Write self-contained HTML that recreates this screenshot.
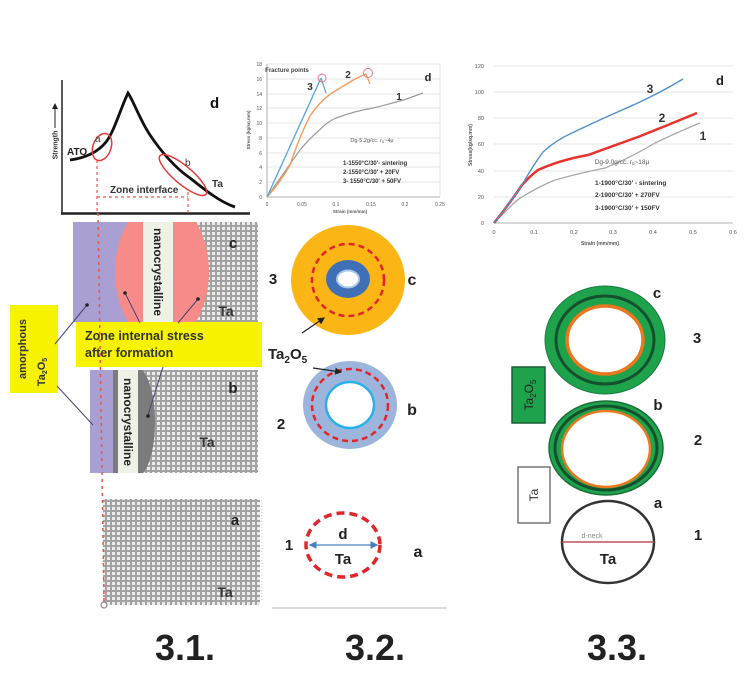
<!DOCTYPE html>
<html><head><meta charset="utf-8"><style>
html,body{margin:0;padding:0;background:#fff;}
svg{display:block;}
text{font-family:"Liberation Sans",sans-serif;}
</style></head><body>
<svg width="750" height="677" viewBox="0 0 750 677" xmlns="http://www.w3.org/2000/svg">
<defs>
<pattern id="grid" width="5" height="5" patternUnits="userSpaceOnUse">
<rect width="5" height="5" fill="#ececec"/>
<rect width="5" height="2" fill="#a2a2a2"/>
<rect width="2" height="5" fill="#a2a2a2"/>
</pattern>
<clipPath id="cc"><rect x="73" y="222" width="185" height="100"/></clipPath>
<clipPath id="cb"><rect x="90" y="370" width="168" height="103"/></clipPath>
<marker id="ah" markerWidth="6" markerHeight="6" refX="5" refY="3" orient="auto"><path d="M0,0 L6,3 L0,6 z" fill="#222"/></marker>
<marker id="bh" markerWidth="6" markerHeight="6" refX="5" refY="3" orient="auto-start-reverse"><path d="M0,0 L6,3 L0,6 z" fill="#4a7fc0"/></marker>
</defs>

<!-- ===== Top-left chart ===== -->
<line x1="62" y1="80" x2="62" y2="214" stroke="#222" stroke-width="1.5"/>
<line x1="61" y1="213.5" x2="250" y2="213.5" stroke="#222" stroke-width="2.5"/>
<line x1="55" y1="128" x2="55" y2="104" stroke="#222" stroke-width="1" marker-end="url(#ah)"/>
<text x="0" y="0" font-size="7" font-weight="bold" fill="#333" text-anchor="middle" transform="translate(57.5,145) rotate(-90)">Strength</text>
<path d="M70,160 C85,158 98,152 106,142 C114,132 120,110 128,93 C133,100 140,120 150,135 C160,150 175,168 190,178 C205,190 220,202 235,207" fill="none" stroke="#111" stroke-width="2.8"/>
<ellipse cx="102" cy="147" rx="9" ry="14" fill="none" stroke="#e23a3a" stroke-width="1.5" transform="rotate(20 102 147)"/>
<ellipse cx="183" cy="175" rx="30" ry="9" fill="none" stroke="#e23a3a" stroke-width="1.5" transform="rotate(40 183 175)"/>
<line x1="97" y1="160" x2="97" y2="213" stroke="#e8574a" stroke-width="1.2" stroke-dasharray="3,3"/>
<line x1="188" y1="192" x2="188" y2="213" stroke="#e8574a" stroke-width="1.2" stroke-dasharray="3,3"/>
<line x1="97" y1="197" x2="188" y2="197" stroke="#e8574a" stroke-width="1.2" stroke-dasharray="3,3"/>
<text x="67" y="155" font-size="10" font-weight="bold" fill="#222">ATO</text>
<text x="95" y="142" font-size="10" fill="#444">a</text>
<text x="185" y="166" font-size="10" fill="#444">b</text>
<text x="212" y="187" font-size="10" font-weight="bold" fill="#333">Ta</text>
<text x="110" y="193" font-size="10" font-weight="bold" fill="#333">Zone interface</text>
<text x="210" y="108" font-size="15" font-weight="bold" fill="#111">d</text>

<!-- ===== Block c ===== -->
<g clip-path="url(#cc)">
<rect x="73" y="222" width="185" height="100" fill="url(#grid)"/>
<rect x="73" y="222" width="100" height="100" fill="#a99fd2"/>
<ellipse cx="162" cy="272" rx="47" ry="72" fill="#f68b8a"/>
<rect x="143" y="222" width="30" height="100" fill="#eef2e6"/>
</g>
<text x="0" y="0" font-size="12" font-weight="bold" fill="#222" text-anchor="middle" transform="translate(154,272) rotate(90)">nanocrystalline</text>
<text x="233" y="248" font-size="15" font-weight="bold" fill="#222" text-anchor="middle">c</text>
<text x="226" y="316" font-size="14" font-weight="bold" fill="#333" text-anchor="middle">Ta</text>

<!-- ===== Block b ===== -->
<g clip-path="url(#cb)">
<rect x="90" y="370" width="168" height="103" fill="url(#grid)"/>
<rect x="90" y="370" width="24" height="103" fill="#a99fd2"/>
<ellipse cx="135" cy="422" rx="20" ry="56" fill="#7b7b7b"/>
<rect x="113" y="370" width="8" height="103" fill="#7b7b7b"/>
<rect x="118" y="370" width="20" height="103" fill="#eef2e6"/>
</g>
<text x="0" y="0" font-size="12" font-weight="bold" fill="#222" text-anchor="middle" transform="translate(124,422) rotate(90)">nanocrystalline</text>
<text x="233" y="393" font-size="15" font-weight="bold" fill="#222" text-anchor="middle">b</text>
<text x="207" y="447" font-size="14" font-weight="bold" fill="#333" text-anchor="middle">Ta</text>

<!-- ===== Block a ===== -->
<rect x="103" y="499" width="157" height="106" fill="url(#grid)"/>
<text x="235" y="525" font-size="15" font-weight="bold" fill="#222" text-anchor="middle">a</text>
<text x="225" y="597" font-size="14" font-weight="bold" fill="#333" text-anchor="middle">Ta</text>

<!-- yellow labels -->
<rect x="76" y="322" width="186" height="45" fill="#f6f200"/>
<text x="85" y="340" font-size="12.5" font-weight="bold" fill="#333">Zone internal stress</text>
<text x="85" y="357" font-size="12.5" font-weight="bold" fill="#333">after formation</text>
<rect x="10" y="305" width="48" height="88" fill="#f6f200"/>
<text x="0" y="0" font-size="11" font-weight="bold" fill="#333" text-anchor="middle" transform="translate(26,349) rotate(-90)" font-family="Liberation Serif,serif">amorphous</text>
<text x="0" y="0" font-size="11" font-weight="bold" fill="#333" text-anchor="middle" transform="translate(45,372) rotate(-90)">Ta<tspan font-size="7" dy="2">2</tspan><tspan dy="-2">O</tspan><tspan font-size="7" dy="2">5</tspan></text>

<!-- pointer lines -->
<g stroke="#4a4470" stroke-width="1" fill="none">
<line x1="55" y1="344" x2="87" y2="305"/>
<line x1="57" y1="386" x2="93" y2="425"/>
<line x1="125" y1="293" x2="140" y2="323"/>
<line x1="198" y1="299" x2="178" y2="323"/>
<line x1="163" y1="367" x2="148" y2="415"/>
</g>
<circle cx="87" cy="305" r="1.8" fill="#222"/>
<circle cx="125" cy="293" r="1.8" fill="#222"/>
<circle cx="198" cy="299" r="1.8" fill="#222"/>
<circle cx="148" cy="416" r="1.8" fill="#222"/>

<!-- red dashed vertical -->
<line x1="98" y1="213" x2="104" y2="602" stroke="#e8574a" stroke-width="1.5" stroke-dasharray="3,4"/>
<circle cx="104" cy="605" r="3" fill="#fff" stroke="#888" stroke-width="1.2"/>

<!-- ===== Middle chart ===== -->
<g stroke="#dcdcdc" stroke-width="0.7">
<line x1="267" y1="64" x2="440" y2="64"/><line x1="267" y1="79" x2="440" y2="79"/>
<line x1="267" y1="94" x2="440" y2="94"/><line x1="267" y1="108" x2="440" y2="108"/>
<line x1="267" y1="123" x2="440" y2="123"/><line x1="267" y1="138" x2="440" y2="138"/>
<line x1="267" y1="153" x2="440" y2="153"/><line x1="267" y1="167" x2="440" y2="167"/>
<line x1="267" y1="182" x2="440" y2="182"/>
<line x1="440" y1="64" x2="440" y2="197"/>
</g>
<line x1="267" y1="64" x2="267" y2="197" stroke="#999" stroke-width="0.8"/>
<line x1="267" y1="197" x2="440" y2="197" stroke="#999" stroke-width="0.8"/>
<g font-size="5" fill="#555" text-anchor="end">
<text x="262" y="66">18</text><text x="262" y="81">16</text><text x="262" y="96">14</text>
<text x="262" y="110">12</text><text x="262" y="125">10</text><text x="262" y="140">8</text>
<text x="262" y="155">6</text><text x="262" y="169">4</text><text x="262" y="184">2</text>
<text x="262" y="199">0</text>
</g>
<g font-size="5" fill="#555" text-anchor="middle">
<text x="267" y="206">0</text><text x="302" y="206">0.05</text><text x="336" y="206">0.1</text>
<text x="371" y="206">0.15</text><text x="405" y="206">0.2</text><text x="440" y="206">0.25</text>
</g>
<text x="350" y="213" font-size="4.5" font-weight="bold" fill="#555" text-anchor="middle">Strain (mm/mm)</text>
<text x="0" y="0" font-size="4.5" font-weight="bold" fill="#555" text-anchor="middle" transform="translate(250,130) rotate(-90)">Stress (kg/sq.mm)</text>
<path d="M267,197 L300,150 Q310,138 319,130.5 Q327,122 336,118 Q355,111 373,108 Q390,104 405,99.5 L423,93" fill="none" stroke="#9a9a9a" stroke-width="1.2"/>
<path d="M267,197 Q280,183 290,165 Q300,135 310,116 Q322,98 337,90 Q345,85 350,82 Q358,77 366,74" fill="none" stroke="#f59a5a" stroke-width="1.4"/>
<path d="M366,74 L370,84" fill="none" stroke="#f59a5a" stroke-width="1.2"/>
<path d="M267,197 L321,78" fill="none" stroke="#5aa9e0" stroke-width="1.4"/>
<path d="M321,78 L326,93" fill="none" stroke="#5ab0b0" stroke-width="1.2"/>
<circle cx="322" cy="78" r="4" fill="none" stroke="#e8708a" stroke-width="1"/>
<circle cx="368" cy="73" r="4.5" fill="none" stroke="#e8708a" stroke-width="1"/>
<text x="287" y="72" font-size="6" font-weight="bold" fill="#444" text-anchor="middle">Fracture points</text>
<text x="310" y="90" font-size="10" font-weight="bold" fill="#333" text-anchor="middle">3</text>
<text x="348" y="78" font-size="10" font-weight="bold" fill="#333" text-anchor="middle">2</text>
<text x="399" y="100" font-size="10" font-weight="bold" fill="#333" text-anchor="middle">1</text>
<text x="428" y="81" font-size="11" font-weight="bold" fill="#222" text-anchor="middle">d</text>
<text x="372" y="142" font-size="5.5" fill="#555" text-anchor="middle">Dg-5.2g/cc. r<tspan font-size="4" dy="1">0</tspan><tspan dy="-1">~4μ</tspan></text>
<g font-size="6" font-weight="bold" fill="#333">
<text x="343" y="165">1-1550°C/30'- sintering</text>
<text x="343" y="174">2-1550°C/30' + 20FV</text>
<text x="343" y="183">3- 1550°C/30' + 50FV</text>
</g>

<!-- ===== Right chart ===== -->
<g stroke="#dcdcdc" stroke-width="0.7">
<line x1="494" y1="66" x2="733" y2="66"/><line x1="494" y1="92" x2="733" y2="92"/>
<line x1="494" y1="118" x2="733" y2="118"/><line x1="494" y1="144" x2="733" y2="144"/>
<line x1="494" y1="171" x2="733" y2="171"/><line x1="494" y1="197" x2="733" y2="197"/>
</g>
<line x1="494" y1="223" x2="733" y2="223" stroke="#999" stroke-width="0.8"/>
<g font-size="5.5" fill="#555" text-anchor="end">
<text x="484" y="68">120</text><text x="484" y="94">100</text><text x="484" y="120">80</text>
<text x="484" y="146">60</text><text x="484" y="173">40</text><text x="484" y="199">20</text>
<text x="484" y="225">0</text>
</g>
<g font-size="5.5" fill="#555" text-anchor="middle">
<text x="494" y="234">0</text><text x="534" y="234">0.1</text><text x="574" y="234">0.2</text>
<text x="613" y="234">0.3</text><text x="653" y="234">0.4</text><text x="693" y="234">0.5</text>
<text x="733" y="234">0.6</text>
</g>
<text x="600" y="245" font-size="5" font-weight="bold" fill="#555" text-anchor="middle">Strain (mm/mm)</text>
<text x="0" y="0" font-size="5" font-weight="bold" fill="#555" text-anchor="middle" transform="translate(472,145) rotate(-90)">Stress(kg/sq.mm)</text>
<path d="M494,223 Q505,212 512,205 Q518,199 522,197 Q538,187 555,180 Q580,173 605,168 Q630,158 655,143 Q678,132 700,123" fill="none" stroke="#a8a8a8" stroke-width="1.3"/>
<path d="M494,223 Q510,203 522,185 Q530,176 538,170 Q560,160 588,155 Q613,146 638,137 Q668,125 697,113" fill="none" stroke="#e8322e" stroke-width="2.5"/>
<path d="M494,223 Q510,203 522,185 Q532,167 543,152 Q556,140 572,133 Q597,121 622,110 Q655,96 683,79" fill="none" stroke="#4f8fcb" stroke-width="1.4"/>
<text x="650" y="93" font-size="12" font-weight="bold" fill="#333" text-anchor="middle">3</text>
<text x="662" y="122" font-size="12" font-weight="bold" fill="#333" text-anchor="middle">2</text>
<text x="703" y="140" font-size="12" font-weight="bold" fill="#333" text-anchor="middle">1</text>
<text x="720" y="85" font-size="13" font-weight="bold" fill="#222" text-anchor="middle">d</text>
<text x="622" y="164" font-size="6.5" fill="#555" text-anchor="middle">Dg-9.0g/cc. r<tspan font-size="4.5" dy="1">0</tspan><tspan dy="-1">~18μ</tspan></text>
<g font-size="6.5" font-weight="bold" fill="#333">
<text x="595" y="185">1-1900°C/30' - sintering</text>
<text x="595" y="197">2-1900°C/30' + 270FV</text>
<text x="595" y="210">3-1900°C/30' + 150FV</text>
</g>

<!-- ===== Middle circles ===== -->
<ellipse cx="348" cy="280" rx="57" ry="55" fill="#fbb616"/>
<circle cx="348" cy="280" r="36" fill="none" stroke="#e0262a" stroke-width="2.5" stroke-dasharray="6,4"/>
<ellipse cx="348" cy="279" rx="22" ry="19" fill="#3f6fb5"/>
<ellipse cx="348" cy="279" rx="11" ry="8.5" fill="#fff" stroke="#a8c4ea" stroke-width="2"/>
<text x="273" y="284" font-size="15" font-weight="bold" fill="#222" text-anchor="middle">3</text>
<text x="412" y="285" font-size="16" font-weight="bold" fill="#222" text-anchor="middle">c</text>
<line x1="302" y1="333" x2="324" y2="318" stroke="#222" stroke-width="1.2" marker-end="url(#ah)"/>
<text x="268" y="359" font-size="15" font-weight="bold" fill="#222">Ta<tspan font-size="10" dy="4">2</tspan><tspan dy="-4">O</tspan><tspan font-size="10" dy="4">5</tspan></text>

<ellipse cx="350" cy="405" rx="47" ry="44" fill="#9db5dc"/>
<ellipse cx="350" cy="405" rx="38" ry="36" fill="none" stroke="#e0262a" stroke-width="2.5" stroke-dasharray="6,4"/>
<ellipse cx="350" cy="405" rx="24" ry="23" fill="#fff" stroke="#28b0e8" stroke-width="2.5"/>
<line x1="313" y1="368" x2="341" y2="372" stroke="#222" stroke-width="1.2" marker-end="url(#ah)"/>
<text x="281" y="429" font-size="15" font-weight="bold" fill="#222" text-anchor="middle">2</text>
<text x="412" y="415" font-size="16" font-weight="bold" fill="#222" text-anchor="middle">b</text>

<ellipse cx="343" cy="545" rx="37" ry="32" fill="none" stroke="#e0262a" stroke-width="3.5" stroke-dasharray="8,5"/>
<line x1="310" y1="545" x2="377" y2="545" stroke="#4a7fc0" stroke-width="1.3" marker-start="url(#bh)" marker-end="url(#bh)"/>
<text x="343" y="539" font-size="15" font-weight="bold" fill="#222" text-anchor="middle">d</text>
<text x="343" y="564" font-size="15" font-weight="bold" fill="#222" text-anchor="middle">Ta</text>
<text x="289" y="550" font-size="15" font-weight="bold" fill="#222" text-anchor="middle">1</text>
<text x="418" y="557" font-size="16" font-weight="bold" fill="#222" text-anchor="middle">a</text>
<line x1="272" y1="608" x2="447" y2="608" stroke="#bbb" stroke-width="1"/>
<line x1="262" y1="500" x2="262" y2="600" stroke="#ccc" stroke-width="1" stroke-dasharray="1,2"/>

<!-- ===== Right circles ===== -->
<ellipse cx="605" cy="340" rx="60" ry="54" fill="#1ea34c" stroke="#1b7a3f" stroke-width="1"/>
<ellipse cx="605" cy="340" rx="49" ry="44" fill="none" stroke="#15502d" stroke-width="3"/>
<ellipse cx="605" cy="340" rx="38" ry="34" fill="#fff" stroke="#e9781e" stroke-width="3.5"/>
<text x="657" y="298" font-size="15" font-weight="bold" fill="#222" text-anchor="middle">c</text>
<text x="697" y="343" font-size="15" font-weight="bold" fill="#222" text-anchor="middle">3</text>

<ellipse cx="606" cy="448" rx="57" ry="47" fill="#1ea34c" stroke="#1b6e3a" stroke-width="1.5"/>
<ellipse cx="606" cy="448" rx="51" ry="42" fill="none" stroke="#15502d" stroke-width="3"/>
<ellipse cx="606" cy="449" rx="44" ry="38" fill="#fff" stroke="#e9781e" stroke-width="2.5"/>
<text x="658" y="410" font-size="15" font-weight="bold" fill="#222" text-anchor="middle">b</text>
<text x="698" y="445" font-size="15" font-weight="bold" fill="#222" text-anchor="middle">2</text>

<rect x="512" y="367" width="33" height="56" fill="#1ea34c" stroke="#1b5e36" stroke-width="1.5"/>
<text x="0" y="0" font-size="12" fill="#222" text-anchor="middle" transform="translate(533,395) rotate(-90)">Ta<tspan font-size="8" dy="3">2</tspan><tspan dy="-3">O</tspan><tspan font-size="8" dy="3">5</tspan></text>
<rect x="518" y="467" width="32" height="56" fill="#fff" stroke="#777" stroke-width="1.5"/>
<text x="0" y="0" font-size="12" fill="#333" text-anchor="middle" transform="translate(538,495) rotate(-90)">Ta</text>

<ellipse cx="608" cy="542" rx="46" ry="41" fill="none" stroke="#333" stroke-width="2.5"/>
<line x1="562" y1="542" x2="654" y2="542" stroke="#c0505a" stroke-width="1.5"/>
<text x="592" y="538" font-size="7" fill="#888" text-anchor="middle">d-neck</text>
<text x="608" y="564" font-size="15" font-weight="bold" fill="#222" text-anchor="middle">Ta</text>
<text x="658" y="508" font-size="15" font-weight="bold" fill="#222" text-anchor="middle">a</text>
<text x="698" y="540" font-size="15" font-weight="bold" fill="#222" text-anchor="middle">1</text>

<!-- ===== Panel labels ===== -->
<text x="185" y="660" font-size="36" font-weight="bold" fill="#222" text-anchor="middle">3.1.</text>
<text x="375" y="660" font-size="36" font-weight="bold" fill="#222" text-anchor="middle">3.2.</text>
<text x="617" y="660" font-size="36" font-weight="bold" fill="#222" text-anchor="middle">3.3.</text>
</svg>
</body></html>
